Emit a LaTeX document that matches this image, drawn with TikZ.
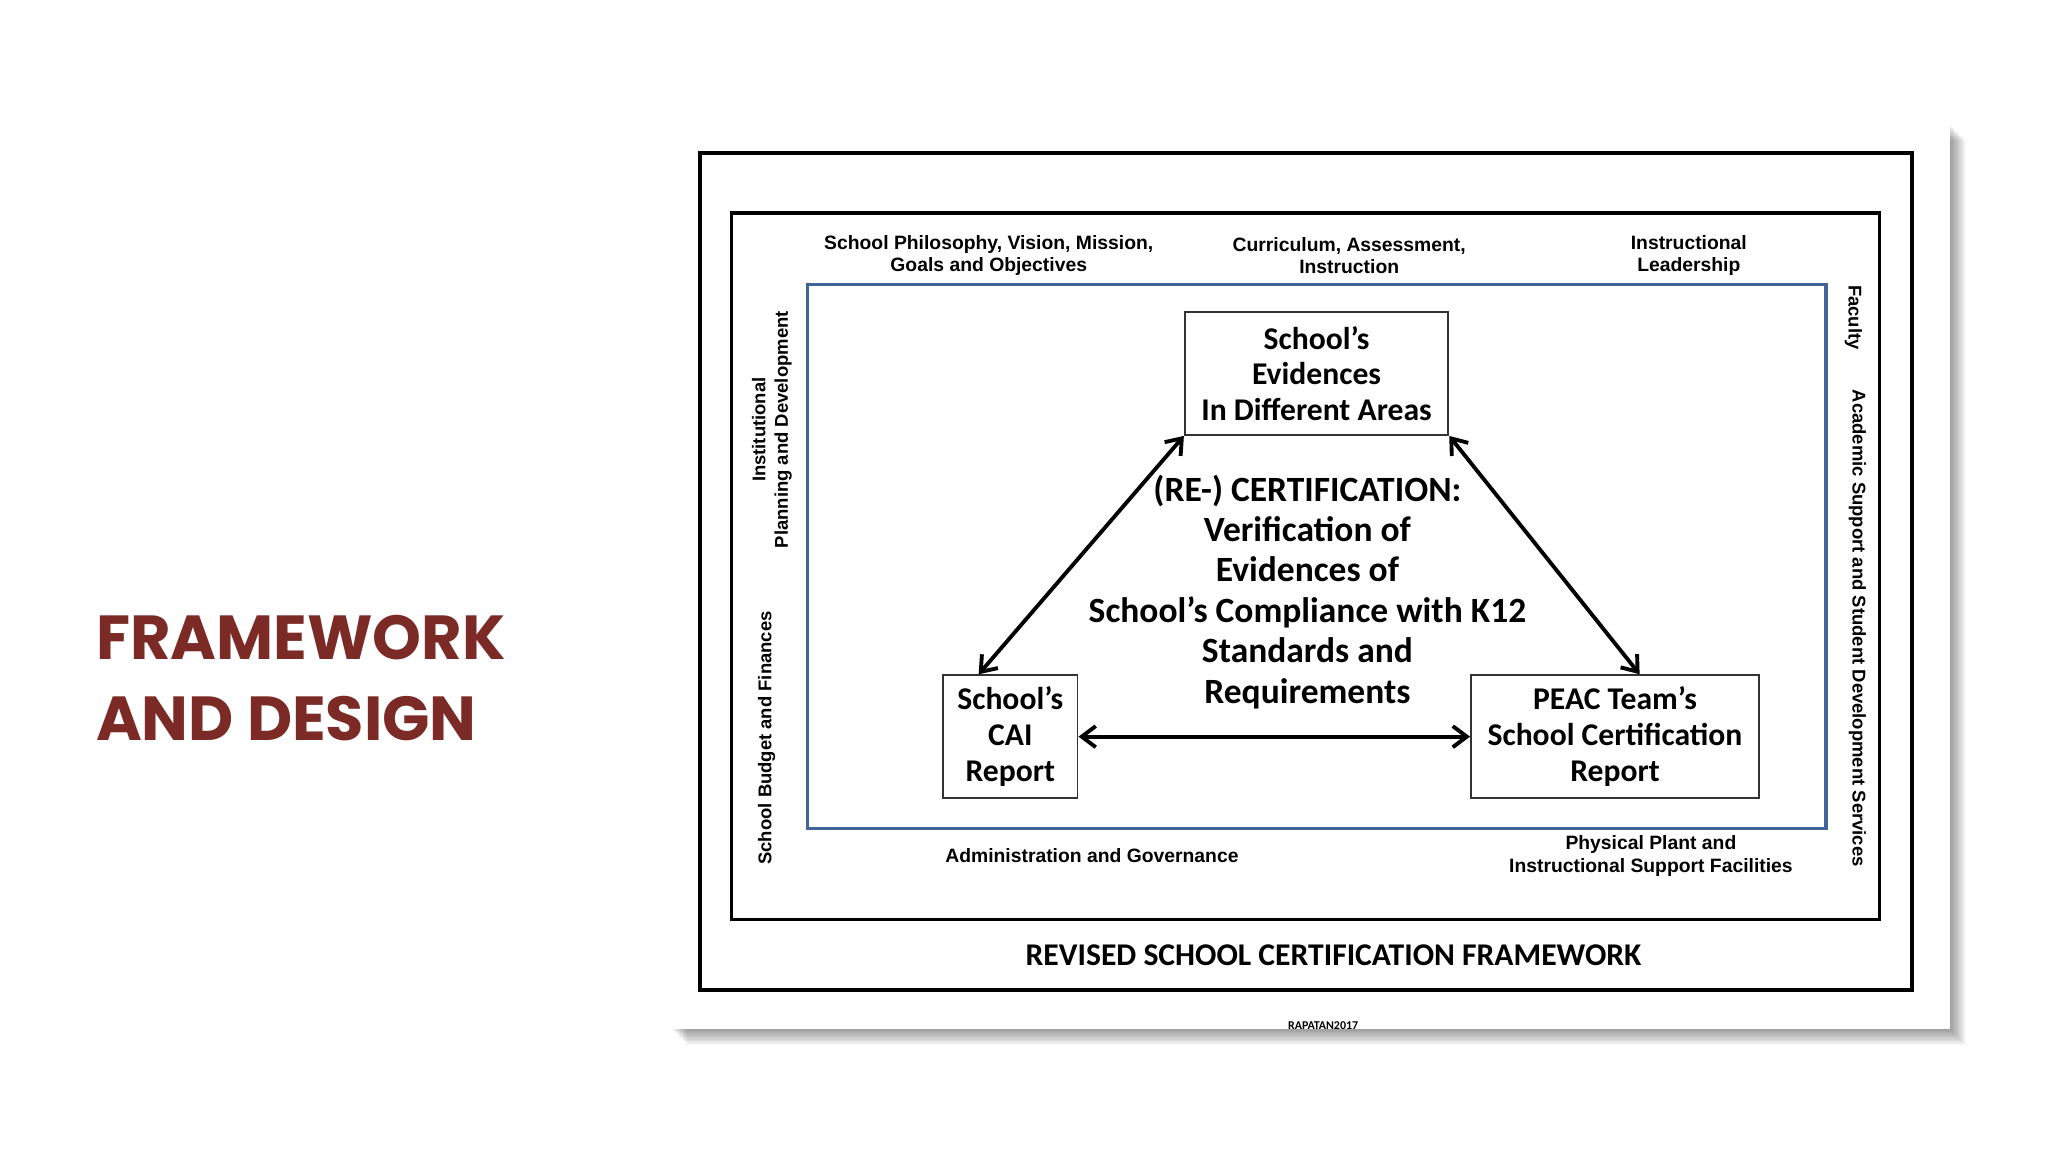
\documentclass[tikz,border=0pt]{standalone}
\usepackage{fontspec}
\setmainfont{Carlito}
\newfontfamily\labelfont{Liberation Sans}
\newfontfamily\titlefont{Poppins}
\usetikzlibrary{arrows.meta}
\definecolor{titlered}{HTML}{7B2A26}
\definecolor{frameblue}{HTML}{41659A}

\begin{document}
\begin{tikzpicture}[x=0.01306cm, y=-0.01306cm,
	box/.style={draw=black!80, line width=0.5pt, align=center, minimum height=35pt, inner sep=1pt, font=\bfseries\fontsize{9}{10.2}\selectfont},
	area/.style={align=center, font=\labelfont\bfseries\fontsize{5.5}{6.4}\selectfont},
	sidearea/.style={area, font=\labelfont\bfseries\fontsize{5.25}{6.4}\selectfont},
	link/.style={<->, line width=1.1pt, >={Straight Barb[length=4pt, width=6pt]}}]
	\useasboundingbox (0, 0) rectangle (1568, 882);
	\fill[white] (0, 0) rectangle (1568, 882);

	% title on the left
	\node[anchor=west, align=left, text=titlered, font=\titlefont\bfseries\fontsize{17.7}{23}\selectfont] (title) at (64, 519) {FRAMEWORK\\AND DESIGN};

	% card with shadow
	\foreach \i in {1,...,12}
		\fill[black, opacity=0.035] (514+\i, 95+\i) rectangle (1493+\i, 788+\i);
	\fill[white] (514, 95) rectangle (1493, 788);

	% frames
	\draw[line width=1.1pt] (536, 117) rectangle (1464, 758);
	\draw[line width=1pt] (560, 163) rectangle (1439, 704);
	\draw[frameblue, line width=0.9pt] (618, 218) rectangle (1398, 634);

	% areas round the frame
	\node[area] (philo) at (757, 195.5) {School Philosophy, Vision, Mission,\\Goals and Objectives};
	\node[area] (curri) at (1033, 195.5) {Curriculum, Assessment,\\Instruction};
	\node[area] (lead) at (1293, 195.5) {Instructional\\Leadership};
	\node[sidearea, rotate=90] (plan) at (591, 329) {Institutional\\Planning and Development};
	\node[sidearea, rotate=90] (budget) at (587, 565) {School Budget and Finances};
	\node[sidearea, rotate=-90] (faculty) at (1419, 243) {Faculty};
	\node[sidearea, rotate=-90] (support) at (1422, 481) {Academic Support and Student Development Services};
	\node[area] (admin) at (836, 655) {Administration and Governance};
	\node[area] (plant) at (1264, 655.5) {Physical Plant and\\Instructional Support Facilities};

	% boxes
	\node[box, minimum width=75pt] (evidences) at (1008, 286) {School’s\\Evidences\\In Different Areas};
	\node[box, minimum width=38.3pt] (cai) at (773.5, 564) {School’s\\CAI\\Report};
	\node[box, minimum width=82pt] (peac) at (1236.5, 564) {PEAC Team’s\\School Certification\\Report};
	\node[align=center, font=\bfseries\fontsize{10.1}{11.5}\selectfont] (verify) at (1001, 453) {(RE-) CERTIFICATION:\\Verification of\\Evidences of\\School’s Compliance with K12\\Standards and\\Requirements};

	\draw[link] (evidences.south west) -- ([xshift=-9pt]cai.north);
	\draw[link] (evidences.south east) -- ([xshift=7pt]peac.north);
	\draw[link] (cai.east) -- (peac.west);

	% caption
	\node[font=\bfseries\fontsize{9}{10}\selectfont] (caption) at (1021, 731) {REVISED SCHOOL CERTIFICATION FRAMEWORK};
	\node[font=\bfseries\fontsize{3.4}{4}\selectfont] (mark) at (1013, 785) {RAPATAN2017};

\end{tikzpicture}
\end{document}
